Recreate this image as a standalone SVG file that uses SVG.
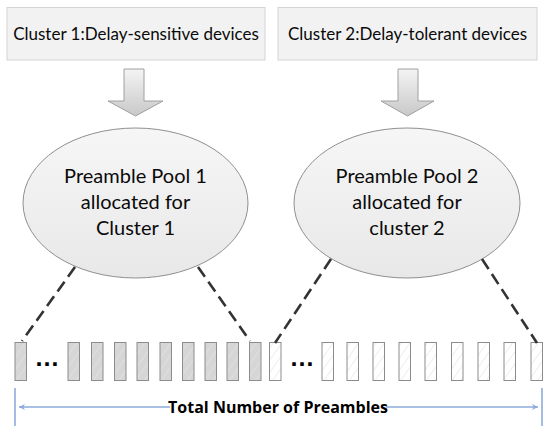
<svg xmlns="http://www.w3.org/2000/svg" width="550" height="430" viewBox="0 0 550 430">
<defs>
<style>
.box{fill:#f2f2f2;stroke:#d4d4d4;stroke-width:1}
.t{font-family:Lato,"Liberation Sans",sans-serif;fill:#0a0a0a;text-anchor:middle}
.bt{font-size:17px}
.et{font-size:20px}
.ell{fill:url(#eg);stroke:#8f8f8f;stroke-width:1}
.arr{fill:url(#ag);stroke:#a0a0a0;stroke-width:1}
.dash{stroke:#333;stroke-width:2.6;stroke-dasharray:12 6;fill:none}
.g{fill:url(#hg);stroke:#8c8c8c;stroke-width:1}
.w{fill:url(#hw);stroke:#8c8c8c;stroke-width:1}
.blue{stroke:#8eaadb;stroke-width:1.6;fill:none}
.dots{font-family:"Liberation Sans",sans-serif;font-size:25px;font-weight:bold;fill:#000}
.tot{font-family:"Open Sans","Liberation Sans",sans-serif;font-weight:bold;font-size:16px;fill:#000;text-anchor:middle}
</style>
<linearGradient id="eg" x1="0" y1="0" x2="0" y2="1">
<stop offset="0" stop-color="#f6f6f6"/><stop offset="1" stop-color="#e8e8e8"/>
</linearGradient>
<linearGradient id="ag" x1="0" y1="0" x2="0" y2="1">
<stop offset="0" stop-color="#f4f4f4"/><stop offset="1" stop-color="#c8c8c8"/>
</linearGradient>
<pattern id="hg" patternUnits="userSpaceOnUse" width="7" height="7" patternTransform="rotate(35)">
<rect width="7" height="7" fill="#d6d6d6"/><line x1="0" y1="0" x2="0" y2="7" stroke="#e3e3e3" stroke-width="1.5"/>
</pattern>
<pattern id="hw" patternUnits="userSpaceOnUse" width="7" height="7" patternTransform="rotate(35)">
<rect width="7" height="7" fill="#ffffff"/><line x1="0" y1="0" x2="0" y2="7" stroke="#e6e6e6" stroke-width="1.3"/>
</pattern>
<marker id="ah" viewBox="0 0 10 10" refX="10" refY="5" markerWidth="7" markerHeight="6" markerUnits="userSpaceOnUse" orient="auto-start-reverse">
<path d="M0,0 L10,5 L0,10 L3,5 Z" fill="#8eaadb"/>
</marker>
</defs>

<g id="cluster1">
<rect class="box" x="7" y="7.5" width="258" height="52.5"/>
<text class="t bt" x="136" y="40">Cluster 1:Delay-sensitive devices</text>
</g>
<g id="cluster2">
<rect class="box" x="278" y="7.5" width="259" height="52.5"/>
<text class="t bt" x="407.5" y="40">Cluster 2:Delay-tolerant devices</text>
</g>

<g id="pool1">
<ellipse class="ell" cx="135.5" cy="203" rx="112.5" ry="75"/>
<text class="t et" x="135.5" y="183">Preamble Pool 1</text>
<text class="t et" x="135.5" y="209">allocated for</text>
<text class="t et" x="135.5" y="235">Cluster 1</text>
</g>
<g id="pool2">
<ellipse class="ell" cx="407" cy="203" rx="113" ry="75"/>
<text class="t et" x="407" y="183">Preamble Pool 2</text>
<text class="t et" x="407" y="209">allocated for</text>
<text class="t et" x="407" y="235">cluster 2</text>
</g>

<g id="preambles">
<rect class="g" x="15" y="342.5" width="11.5" height="38"/>
<rect class="g" x="68" y="342.5" width="11.5" height="38"/>
<rect class="g" x="91.5" y="342.5" width="11.5" height="38"/>
<rect class="g" x="114.5" y="342.5" width="11.5" height="38"/>
<rect class="g" x="137" y="342.5" width="11.5" height="38"/>
<rect class="g" x="160" y="342.5" width="11.5" height="38"/>
<rect class="g" x="182.5" y="342.5" width="11.5" height="38"/>
<rect class="g" x="205" y="342.5" width="11.5" height="38"/>
<rect class="g" x="227" y="342.5" width="11.5" height="38"/>
<rect class="g" x="249.5" y="342.5" width="11.5" height="38"/>
<rect class="w" x="269.5" y="342.5" width="11.5" height="38"/>
<rect class="w" x="322" y="342.5" width="11.5" height="38"/>
<rect class="w" x="347" y="342.5" width="11.5" height="38"/>
<rect class="w" x="373" y="342.5" width="11.5" height="38"/>
<rect class="w" x="399" y="342.5" width="11.5" height="38"/>
<rect class="w" x="425" y="342.5" width="11.5" height="38"/>
<rect class="w" x="451.5" y="342.5" width="11.5" height="38"/>
<rect class="w" x="478" y="342.5" width="11.5" height="38"/>
<rect class="w" x="504" y="342.5" width="11.5" height="38"/>
<rect class="w" x="531" y="342.5" width="11.5" height="38"/>
<text class="dots" x="34.5" y="366">…</text>
<text class="dots" x="289.5" y="366">…</text>
</g>

<g id="connectors">
<path class="arr" d="M124,69 H144 V101 H163 L135.5,116 L108,101 H124 Z"/>
<path class="arr" d="M398,69 H418 V101 H434 L407.5,116 L381,101 H398 Z"/>
<line class="dash" x1="75" y1="267" x2="22" y2="341"/>
<line class="dash" x1="198" y1="267" x2="250" y2="341"/>
<line class="dash" x1="331" y1="259" x2="275" y2="343"/>
<line class="dash" x1="482" y1="259" x2="537" y2="343"/>
<line class="blue" x1="15" y1="388" x2="15" y2="426"/>
<line class="blue" x1="542" y1="388" x2="542" y2="426"/>
<line class="blue" x1="170" y1="407" x2="19" y2="407" marker-end="url(#ah)"/>
<line class="blue" x1="386" y1="407" x2="538" y2="407" marker-end="url(#ah)"/>
<text class="tot" x="278" y="413">Total Number of Preambles</text>
</g>
</svg>
